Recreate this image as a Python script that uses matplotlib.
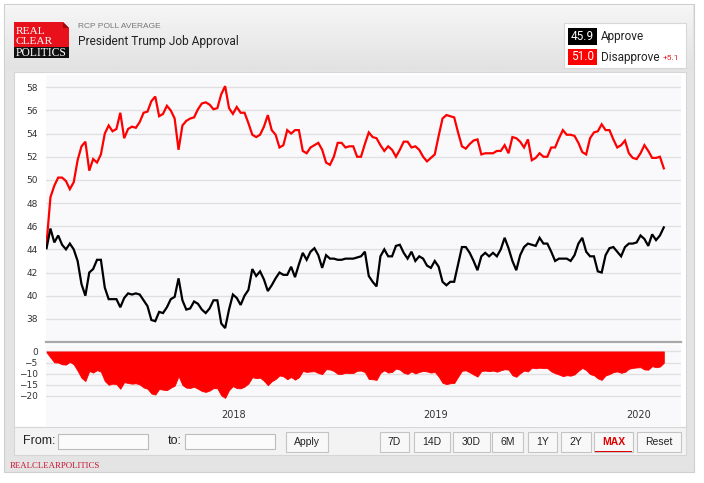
import numpy as np
import pandas as pd
import matplotlib
matplotlib.use("Agg")
import matplotlib.pyplot as plt
from matplotlib.patches import Rectangle, Polygon

W, H = 704, 483

# weekly RCP averages
START = "2017-01-29"
APPROVE = [
    44.1, 45.8, 44.6, 45.2, 44.4, 44.0, 44.5, 44.0, 43.0, 41.0,
    40.0, 42.0, 42.3, 43.1, 43.1, 40.7, 39.7, 39.7, 39.7, 39.0,
    39.8, 40.2, 40.1, 40.2, 40.1, 39.6, 39.1, 37.9, 37.8, 38.6,
    38.5, 39.0, 39.7, 39.9, 41.5, 39.6, 38.8, 38.9, 39.5, 39.3,
    38.8, 38.5, 38.9, 39.6, 39.6, 37.6, 37.2, 38.8, 40.1, 39.8,
    39.2, 40.0, 40.5, 42.3, 41.7, 42.1, 41.4, 40.4, 40.9, 41.5,
    42.0, 41.8, 41.8, 42.5, 41.6, 42.7, 43.7, 43.1, 43.8, 44.1,
    43.5, 42.4, 43.5, 43.2, 43.2, 43.1, 43.1, 43.2, 43.2, 43.2,
    43.3, 43.4, 43.8, 41.7, 41.2, 40.8, 43.4, 44.0, 43.4, 43.4,
    44.3, 44.4, 43.7, 43.2, 43.8, 43.0, 43.4, 43.2, 42.6, 42.4,
    43.0, 42.5, 41.2, 40.9, 41.2, 41.2, 42.7, 44.2, 44.2, 43.7,
    43.0, 42.2, 43.4, 43.7, 43.4, 43.7, 43.4, 44.0, 45.0, 44.1,
    43.0, 42.2, 43.5, 44.2, 44.5, 44.4, 44.3, 45.0, 44.5, 44.5,
    43.8, 43.0, 43.2, 43.2, 43.2, 43.0, 43.5, 44.5, 45.0, 43.8,
    43.4, 43.4, 42.1, 42.0, 43.5, 44.1, 44.2, 43.8, 43.4, 44.2,
    44.5, 44.5, 44.6, 45.2, 44.9, 44.3, 45.3, 44.8, 45.2, 45.9,
]
DISAPPROVE = [
    44.5, 48.5, 49.5, 50.2, 50.2, 49.9, 49.2, 49.8, 51.7, 52.9,
    53.3, 50.8, 51.8, 51.5, 52.2, 54.0, 54.7, 54.2, 54.4, 55.8,
    53.6, 54.4, 54.6, 54.5, 55.0, 55.8, 55.9, 56.8, 57.2, 55.5,
    55.7, 56.4, 56.0, 55.3, 52.6, 54.7, 55.1, 55.3, 55.4, 56.1,
    56.6, 56.7, 56.5, 56.1, 56.2, 57.4, 58.1, 56.2, 55.7, 56.3,
    55.8, 55.8, 54.9, 53.9, 53.7, 53.9, 54.6, 55.6, 54.3, 53.9,
    52.8, 53.0, 54.3, 54.0, 54.3, 54.3, 52.5, 52.3, 52.8, 53.0,
    53.2, 52.6, 51.5, 51.3, 52.0, 53.2, 53.2, 52.8, 52.9, 52.9,
    52.0, 52.0, 53.1, 54.1, 53.7, 53.6, 53.0, 52.5, 52.9, 52.6,
    52.0, 52.6, 53.3, 53.3, 52.8, 52.9, 52.6, 52.0, 51.6, 51.9,
    52.2, 53.8, 55.3, 55.6, 55.5, 55.4, 54.1, 52.9, 52.7, 53.1,
    53.4, 53.5, 52.2, 52.3, 52.3, 52.3, 52.5, 52.5, 53.0, 52.3,
    53.7, 53.6, 53.3, 52.8, 53.5, 51.7, 51.9, 52.3, 52.0, 52.0,
    52.8, 52.8, 53.6, 54.3, 53.9, 53.9, 53.8, 53.2, 52.4, 52.2,
    53.6, 54.1, 54.2, 54.8, 54.3, 54.3, 53.5, 52.8, 53.0, 53.4,
    52.3, 51.9, 51.8, 52.3, 53.0, 52.5, 51.9, 51.9, 52.0, 51.0,
]
Y_TICKS = [38, 40, 42, 44, 46, 48, 50, 52, 54, 56, 58]
SPREAD_TICKS = [0, -5, -10, -15, -20]
YEAR_TICKS = ["2018-01-01", "2019-01-01", "2020-01-01"]
YEAR_LABELS = ["2018", "2019", "2020"]
RANGE_BUTTONS = ["7D", "14D", "30D", "6M", "1Y", "2Y", "MAX", "Reset"]
LAST_APPROVE = "45.9"
LAST_DISAPPROVE = "51.0"
SPREAD_TEXT = "+5.1"

RED = "#ff0000"
BUTTON_SPANS = [(380, 409), (414, 450), (453, 490), (492, 523),
                (528, 557), (561, 591), (594, 633), (637, 681)]


def fx(x):
    return x / W


def fy(y):
    return 1 - y / H


def box(fig, x0, y0, x1, y1, fc, ec="none", lw=0.0, z=-1):
    fig.add_artist(Rectangle((fx(x0), fy(y1)), (x1 - x0) / W, (y1 - y0) / H,
                             transform=fig.transFigure, facecolor=fc,
                             edgecolor=ec, linewidth=lw, zorder=z))


def label(fig, x, y, s, **kw):
    kw.setdefault("va", "center")
    kw.setdefault("family", "Liberation Sans")
    fig.text(fx(x), fy(y), s, **kw)


def main():
    dates = pd.date_range(START, periods=len(APPROVE), freq="7D")
    approve = np.array(APPROVE)
    disapprove = np.array(DISAPPROVE)
    spread = approve - disapprove

    fig = plt.figure(figsize=(W / 100, H / 100), dpi=100)
    fig.patch.set_facecolor("white")

    # page chrome
    box(fig, 4, 4, 694, 472, "#e4e4e4", ec="#cfcfcf", lw=0.8, z=-3)
    grad = np.linspace(0, 1, 50).reshape(-1, 1)
    hax = fig.add_axes([fx(5), fy(70), (693 - 5) / W, 65 / H], zorder=-2)
    hax.imshow(grad, aspect="auto", cmap=matplotlib.colors.LinearSegmentedColormap.from_list(
        "hdr", ["#f6f6f6", "#e2e2e2"]), extent=(0, 1, 0, 1), origin="upper")
    hax.set_axis_off()
    box(fig, 14, 72, 686, 427, "white", ec="#d6d6d6", lw=0.8, z=-1)
    box(fig, 14, 427, 686, 455, "#f3f3f3", ec="#d6d6d6", lw=0.8, z=-1)

    # logo
    box(fig, 14, 22, 69, 47, "#e8101a", z=1)
    box(fig, 14, 47, 69, 58, "#111111", z=1)
    fig.add_artist(Polygon([(fx(63), fy(22)), (fx(69), fy(22)), (fx(69), fy(28))],
                           closed=True, transform=fig.transFigure,
                           facecolor="#ececec", edgecolor="none", zorder=2))
    fig.add_artist(Polygon([(fx(63), fy(22)), (fx(63), fy(28)), (fx(69), fy(28))],
                           closed=True, transform=fig.transFigure,
                           facecolor="#9a0a10", edgecolor="none", zorder=2))
    for y, s, size in [(31.5, "REAL", 8.2), (41.5, "CLEAR", 8.2), (52.8, "POLITICS", 8.4)]:
        label(fig, 15.5, y, s, color="white", fontsize=size,
              family="Liberation Serif", zorder=3)

    label(fig, 78, 26, "RCP POLL AVERAGE", color="#777777", fontsize=6.0)
    label(fig, 78, 41, "President Trump Job Approval", color="#222222",
          fontsize=8.6, family="Roboto")

    # current values box
    box(fig, 564, 23, 686, 68, "white", ec="#d8d8d8", lw=0.8, z=1)
    box(fig, 568, 28, 597, 45, "#000000", z=2)
    box(fig, 568, 49, 597, 65, RED, z=2)
    label(fig, 582.5, 36.5, LAST_APPROVE, color="white", fontsize=8.5,
          ha="center", family="Roboto", zorder=3)
    label(fig, 582.5, 57, LAST_DISAPPROVE, color="white", fontsize=8.5,
          ha="center", family="Roboto", zorder=3)
    label(fig, 601, 36.5, "Approve", color="#222222", fontsize=8.5,
          family="Roboto", zorder=3)
    label(fig, 601, 57, "Disapprove", color="#222222", fontsize=8.5,
          family="Roboto", zorder=3)
    label(fig, 663, 57.5, SPREAD_TEXT, color="#e0202a", fontsize=6,
          family="Roboto", zorder=3)

    # main chart
    ax = fig.add_axes([fx(46), fy(342), 635 / W, 267 / H])
    ax.set_facecolor("#f9f9fc")
    ax.plot(dates, disapprove, color=RED, linewidth=1.6, solid_joinstyle="miter")
    ax.plot(dates, approve, color="black", linewidth=1.6, solid_joinstyle="miter")
    ax.set_xlim(pd.Timestamp("2017-01-28"), pd.Timestamp("2020-03-18"))
    ax.set_ylim(36.0, 59.06)
    ax.set_yticks(Y_TICKS)
    ax.set_xticks([])
    ax.yaxis.grid(True, color="#e0e0e0", linewidth=1.0)
    ax.set_axisbelow(True)
    for side in ["top", "right", "left"]:
        ax.spines[side].set_visible(False)
    ax.spines["bottom"].set_color("#a8a8a8")
    ax.spines["bottom"].set_linewidth(1.6)
    ax.tick_params(axis="y", length=0, pad=6, labelsize=6.5, colors="#333333")

    # spread chart
    ax2 = fig.add_axes([fx(46), fy(427), 635 / W, 82 / H])
    ax2.set_facecolor("#f9f9fc")
    ax2.fill_between(dates, spread, 0, color=RED, linewidth=0.6, edgecolor=RED)
    ax2.set_xlim(ax.get_xlim())
    ax2.set_ylim(-34.0, 2.9)
    ax2.set_yticks(SPREAD_TICKS)
    ax2.yaxis.grid(True, color="#e0e0e0", linewidth=1.0)
    ax2.set_axisbelow(True)
    ax2.set_xticks(pd.to_datetime(YEAR_TICKS))
    ax2.set_xticklabels(YEAR_LABELS)
    for side in ax2.spines:
        ax2.spines[side].set_visible(False)
    ax2.tick_params(axis="y", length=0, pad=6, labelsize=6.5, colors="#333333")
    ax2.tick_params(axis="x", length=0, pad=-12.5, labelsize=7, colors="#333333")

    # range controls
    label(fig, 23, 440.5, "From:", color="#222222", fontsize=9)
    box(fig, 58, 434, 148, 449, "#fbfbfb", ec="#bcbcbc", lw=0.8, z=1)
    label(fig, 168, 440.5, "to:", color="#222222", fontsize=9)
    box(fig, 185, 434, 275, 449, "#fbfbfb", ec="#bcbcbc", lw=0.8, z=1)
    box(fig, 286, 432, 328, 452, "#f8f8f8", ec="#c4c4c4", lw=0.8, z=1)
    label(fig, 307, 442, "Apply", color="#222222", fontsize=7.5, ha="center", zorder=3)
    for name, (x0, x1) in zip(RANGE_BUTTONS, BUTTON_SPANS):
        box(fig, x0, 432, x1, 452, "#f8f8f8", ec="#c4c4c4", lw=0.8, z=1)
        active = name == "MAX"
        label(fig, (x0 + x1) / 2, 442, name, fontsize=7.5, ha="center",
              color="#e00000" if active else "#222222",
              fontweight="bold" if active else "normal", zorder=3)
        if active:
            box(fig, x0 + 1, 450.5, x1 - 1, 452, "#e00000", z=2)

    # footer
    label(fig, 10, 466, "REALCLEARPOLITICS", color="#c8102e", fontsize=6.3,
          family="Liberation Serif")

    fig.savefig("out.png", dpi=100, facecolor=fig.get_facecolor())


if __name__ == "__main__":
    main()
